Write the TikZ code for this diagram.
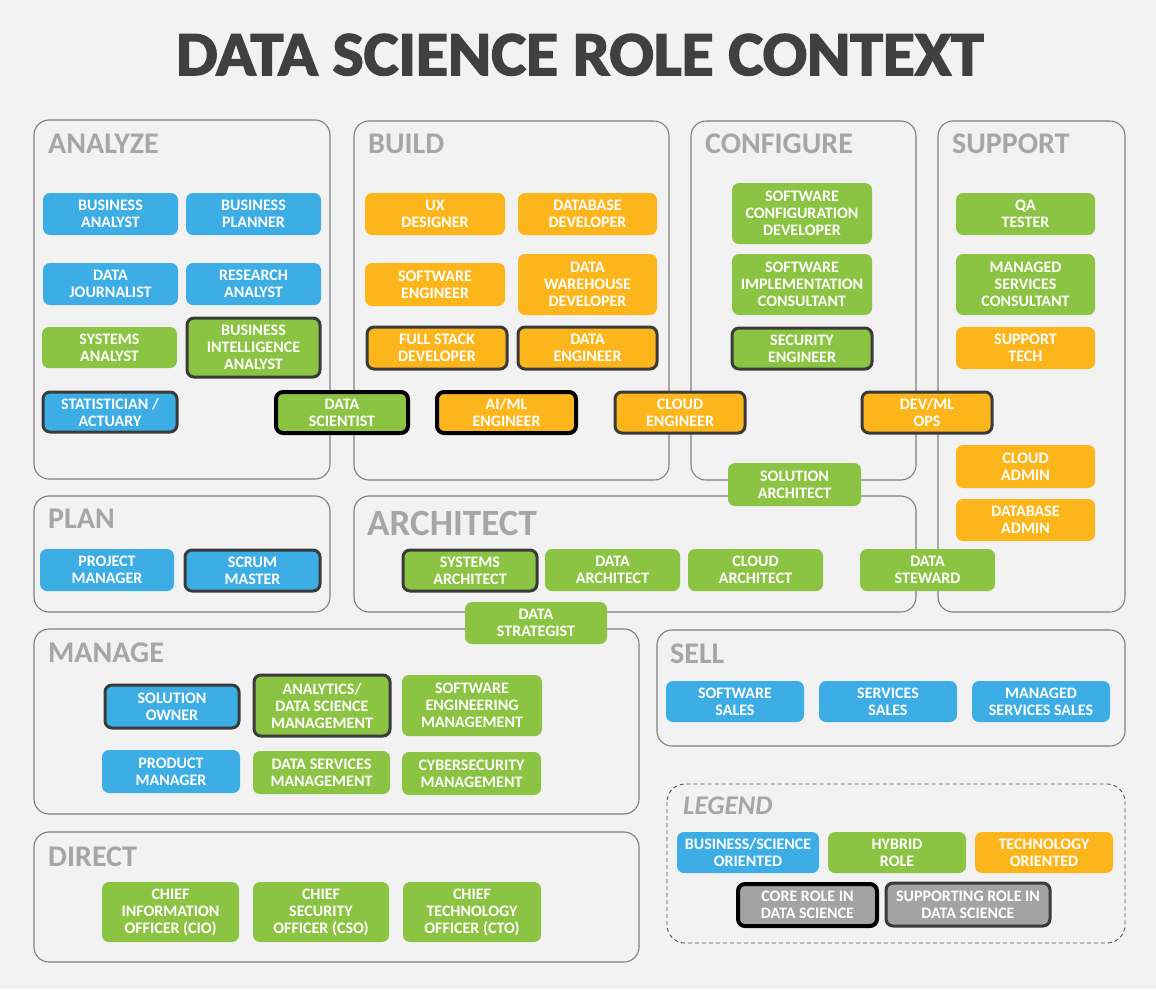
\documentclass[tikz,border=0pt]{standalone}
\usepackage{fontspec}
\usepackage{graphicx}
\setmainfont{Carlito}
\newfontfamily\titlefont{Carlito}[BoldFeatures={FakeBold=2.5}]
\definecolor{bgc}{HTML}{F2F2F2}
\definecolor{rblue}{HTML}{3CAEE5}
\definecolor{rgreen}{HTML}{8BC442}
\definecolor{rorange}{HTML}{FCB51A}
\definecolor{rgray}{HTML}{A3A3A3}
\definecolor{regline}{HTML}{7F7F7F}
\definecolor{reglabel}{HTML}{A6A6A6}
\definecolor{titlec}{HTML}{404040}
\definecolor{suppc}{HTML}{3A3A3A}
\definecolor{legc}{HTML}{44546A}
\tikzset{
 region/.style={draw=regline,line width=1.1pt,rounded corners=15pt},
 legendregion/.style={draw=legc,line width=0.9pt,dash pattern=on 4pt off 3pt,rounded corners=18pt},
 reglab/.style={anchor=base west,inner sep=0pt,text=reglabel,font=\fontsize{30}{30}\selectfont\bfseries},
 rolebase/.style={rounded corners=7pt,text=white,align=center,inner sep=0pt,font=\fontsize{16}{17}\selectfont\bfseries},
 bz/.style={fill=rblue}, gz/.style={fill=rgreen}, oz/.style={fill=rorange}, yz/.style={fill=rgray},
 core/.style={draw=black,line width=4pt},
 supp/.style={draw=suppc,line width=3pt},
}
\newcommand\rb[7]{\node[rolebase,#2,minimum width={#5-#3},minimum height={#6-#4}] (#1) at ({(#3+#5)/2},{(#4+#6)/2}) {#7};}
\begin{document}
\begin{tikzpicture}[x=1pt,y=-1pt]
\fill[bgc] (0,0) rectangle (1156,989);
\useasboundingbox (0,0) rectangle (1156,989);
% title
\node[anchor=base west,inner sep=0pt,text=titlec] (title) at (176,75) {\resizebox{807pt}{41pt}{\titlefont\bfseries DATA SCIENCE ROLE CONTEXT}};
% regions
\draw[region] (34,120) rectangle (330,479);
\draw[region] (354,121) rectangle (669,480);
\draw[region] (691,121) rectangle (916,480);
\draw[region] (938,121) rectangle (1125,612);
\draw[region] (34,496) rectangle (330,612);
\draw[region] (354,496) rectangle (916,612);
\draw[region] (34,629) rectangle (639,814);
\draw[region] (657,630) rectangle (1125,746);
\draw[region] (34,832) rectangle (639,962);
\draw[legendregion] (667,784) rectangle (1125,943);
% region labels
\node[reglab] (lanalyze) at (48,153) {ANALYZE};
\node[reglab] (lbuild) at (368,153) {BUILD};
\node[reglab] (lconfig) at (705,153) {CONFIGURE};
\node[reglab] (lsupport) at (952,153) {SUPPORT};
\node[reglab] (lplan) at (48,528) {PLAN};
\node[reglab,font=\fontsize{37}{37}\selectfont\bfseries] (larch) at (367,535) {ARCHITECT};
\node[reglab] (lmanage) at (48,662) {MANAGE};
\node[reglab] (lsell) at (670,663) {SELL};
\node[reglab] (ldirect) at (48,866) {DIRECT};
\node[reglab,font=\fontsize{27}{27}\selectfont\bfseries\itshape] (llegend) at (683,814) {LEGEND};
% analyze
\rb{ba}{bz}{43}{193}{178}{235}{BUSINESS\\ANALYST}
\rb{bp}{bz}{186}{193}{321}{235}{BUSINESS\\PLANNER}
\rb{dj}{bz}{43}{263}{178}{305}{DATA\\JOURNALIST}
\rb{ra}{bz}{186}{263}{321}{305}{RESEARCH\\ANALYST}
\rb{sa}{gz}{42}{327}{177}{368}{SYSTEMS\\ANALYST}
\rb{bia}{gz,supp}{187}{318}{320}{377}{BUSINESS\\INTELLIGENCE\\ANALYST}
\rb{st}{bz,supp}{43}{392}{177}{432}{STATISTICIAN /\\ACTUARY}
% build
\rb{ux}{oz}{365}{193}{505}{235}{UX\\DESIGNER}
\rb{dbd}{oz}{518}{193}{657}{235}{DATABASE\\DEVELOPER}
\rb{se}{oz}{365}{263}{505}{306}{SOFTWARE\\ENGINEER}
\rb{dwd}{oz}{518}{254}{657}{315}{DATA\\WAREHOUSE\\DEVELOPER}
\rb{fsd}{oz,supp}{367}{327}{507}{369}{FULL STACK\\DEVELOPER}
\rb{de}{oz,supp}{518}{327}{657}{369}{DATA\\ENGINEER}
% configure
\rb{csd}{gz}{732}{183}{872}{244}{SOFTWARE\\CONFIGURATION\\DEVELOPER}
\rb{sic}{gz}{732}{254}{872}{315}{SOFTWARE\\IMPLEMENTATION\\CONSULTANT}
\rb{sec}{gz,supp}{732}{328}{872}{369}{SECURITY\\ENGINEER}
% support
\rb{qa}{gz}{956}{193}{1095}{235}{QA\\TESTER}
\rb{msc}{gz}{956}{254}{1095}{315}{MANAGED\\SERVICES\\CONSULTANT}
\rb{stc}{oz}{956}{327}{1095}{369}{SUPPORT\\TECH}
\rb{cad}{oz}{956}{445}{1095}{488}{CLOUD\\ADMIN}
\rb{dad}{oz}{956}{499}{1095}{541}{DATABASE\\ADMIN}
% row of cross roles
\rb{dsc}{gz,core}{276}{392}{408}{433}{DATA\\SCIENTIST}
\rb{aiml}{oz,core}{437}{392}{576}{433}{AI/ML\\ENGINEER}
\rb{ce}{oz,supp}{615}{392}{745}{433}{CLOUD\\ENGINEER}
\rb{dev}{oz,supp}{862}{392}{992}{433}{DEV/ML\\OPS}
\rb{sar}{gz}{728}{463}{861}{506}{SOLUTION\\ARCHITECT}
% plan
\rb{pm}{bz}{40}{549}{174}{591}{PROJECT\\MANAGER}
\rb{sm}{bz,supp}{185}{550}{320}{591}{SCRUM\\MASTER}
% architect
\rb{sya}{gz,supp}{403}{550}{537}{591}{SYSTEMS\\ARCHITECT}
\rb{dar}{gz}{545}{549}{680}{591}{DATA\\ARCHITECT}
\rb{car}{gz}{688}{549}{823}{591}{CLOUD\\ARCHITECT}
\rb{dst}{gz}{860}{549}{995}{591}{DATA\\STEWARD}
\rb{dstr}{gz}{465}{602}{607}{644}{DATA\\STRATEGIST}
% manage
\rb{so}{bz,supp}{105}{685}{239}{728}{SOLUTION\\OWNER}
\rb{adsm}{gz,supp}{254}{675}{390}{736}{ANALYTICS/\\DATA SCIENCE\\MANAGEMENT}
\rb{sem}{gz}{402}{675}{542}{736}{SOFTWARE\\ENGINEERING\\MANAGEMENT}
\rb{prm}{bz}{102}{750}{240}{793}{PRODUCT\\MANAGER}
\rb{dsm}{gz}{253}{751}{390}{794}{DATA SERVICES\\MANAGEMENT}
\rb{csm}{gz}{402}{752}{541}{795}{CYBERSECURITY\\MANAGEMENT}
% sell
\rb{ssl}{bz}{666}{681}{804}{722}{SOFTWARE\\SALES}
\rb{svs}{bz}{819}{681}{957}{722}{SERVICES\\SALES}
\rb{mss}{bz}{972}{681}{1110}{722}{MANAGED\\SERVICES SALES}
% direct
\rb{cio}{gz}{102}{882}{239}{942}{CHIEF\\INFORMATION\\OFFICER (CIO)}
\rb{cso}{gz}{253}{882}{389}{942}{CHIEF\\SECURITY\\OFFICER (CSO)}
\rb{cto}{gz}{403}{882}{541}{942}{CHIEF\\TECHNOLOGY\\OFFICER (CTO)}
% legend
\rb{lbs}{bz}{677}{832}{819}{873}{BUSINESS/SCIENCE\\ORIENTED}
\rb{lhy}{gz}{828}{832}{966}{873}{HYBRID\\ROLE}
\rb{lte}{oz}{975}{832}{1113}{873}{TECHNOLOGY\\ORIENTED}
\rb{lco}{yz,core}{738}{884}{877}{926}{CORE ROLE IN\\DATA SCIENCE}
\rb{lsu}{yz,supp}{886}{883}{1050}{926}{SUPPORTING ROLE IN\\DATA SCIENCE}
\end{tikzpicture}
\end{document}
